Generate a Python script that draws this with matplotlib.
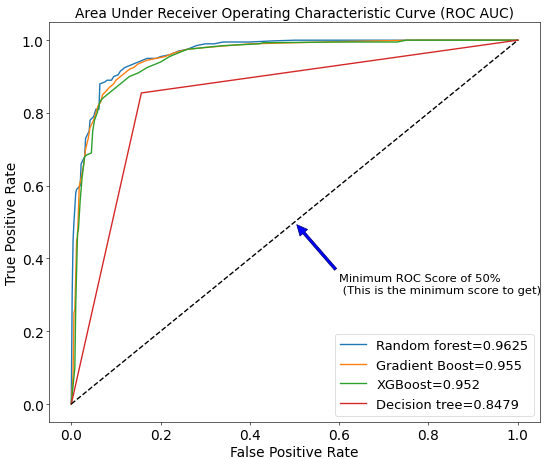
import matplotlib
matplotlib.use('Agg')
import matplotlib.pyplot as plt

# ROC points
rf_fpr = [0.0, 0.002, 0.004, 0.006, 0.010, 0.012, 0.020, 0.022, 0.030, 0.032, 0.040, 0.042, 0.050, 0.055, 0.062, 0.064,
          0.075, 0.080, 0.090, 0.095, 0.105, 0.110, 0.120, 0.130, 0.140, 0.150, 0.160, 0.170, 0.190, 0.200, 0.220,
          0.240, 0.260, 0.280, 0.300, 0.320, 0.340, 0.400, 0.450, 0.500, 1.0]
rf_tpr = [0.0, 0.30, 0.45, 0.50, 0.58, 0.59, 0.60, 0.66, 0.68, 0.73, 0.75, 0.78, 0.79, 0.81, 0.81, 0.88,
          0.885, 0.89, 0.89, 0.90, 0.905, 0.915, 0.925, 0.93, 0.935, 0.94, 0.945, 0.95, 0.95, 0.955, 0.96,
          0.97, 0.975, 0.985, 0.99, 0.99, 0.995, 0.995, 0.998, 1.0, 1.0]

gb_fpr = [0.0, 0.004, 0.006, 0.008, 0.012, 0.014, 0.018, 0.022, 0.028, 0.032, 0.038, 0.042, 0.050, 0.055, 0.060,
          0.066, 0.070, 0.078, 0.085, 0.095, 0.100, 0.110, 0.120, 0.130, 0.140, 0.150, 0.170, 0.190, 0.210, 0.230,
          0.260, 0.300, 0.350, 0.400, 0.500, 0.600, 0.770, 1.0]
gb_tpr = [0.0, 0.08, 0.25, 0.26, 0.45, 0.46, 0.60, 0.62, 0.66, 0.70, 0.73, 0.76, 0.78, 0.80, 0.82,
          0.83, 0.85, 0.86, 0.87, 0.88, 0.89, 0.90, 0.91, 0.92, 0.925, 0.935, 0.945, 0.95, 0.955, 0.965,
          0.975, 0.98, 0.985, 0.99, 0.993, 0.996, 1.0, 1.0]

xgb_fpr = [0.0, 0.008, 0.010, 0.014, 0.016, 0.020, 0.024, 0.030, 0.035, 0.045, 0.048, 0.052, 0.058, 0.064, 0.070,
           0.080, 0.090, 0.100, 0.110, 0.120, 0.130, 0.150, 0.170, 0.180, 0.200, 0.220, 0.240, 0.260, 0.300,
           0.340, 0.420, 0.430, 0.600, 0.730, 0.750, 1.0]
xgb_tpr = [0.0, 0.10, 0.27, 0.47, 0.48, 0.56, 0.62, 0.68, 0.685, 0.69, 0.75, 0.78, 0.80, 0.83, 0.84,
           0.85, 0.86, 0.87, 0.88, 0.89, 0.90, 0.91, 0.925, 0.93, 0.94, 0.955, 0.965, 0.975, 0.98,
           0.985, 0.99, 0.993, 0.995, 0.995, 1.0, 1.0]

dt_fpr = [0.0, 0.157, 1.0]
dt_tpr = [0.0, 0.855, 1.0]

labels = ['Random forest=0.9625', 'Gradient Boost=0.955', 'XGBoost=0.952', 'Decision tree=0.8479']

# big figure at low dpi, like a downscaled notebook plot
fig, ax = plt.subplots(figsize=(10, 8.3636), dpi=55)
ax.plot(rf_fpr, rf_tpr, color='tab:blue', lw=1.8, label=labels[0])
ax.plot(gb_fpr, gb_tpr, color='tab:orange', lw=1.8, label=labels[1])
ax.plot(xgb_fpr, xgb_tpr, color='tab:green', lw=1.8, label=labels[2])
ax.plot(dt_fpr, dt_tpr, color='tab:red', lw=1.8, label=labels[3])
ax.plot([0, 1], [0, 1], 'k--', lw=1.8)

ax.annotate('Minimum ROC Score of 50%\n (This is the minimum score to get)',
            xy=(0.5, 0.5), xytext=(0.6, 0.305), fontsize=15,
            arrowprops=dict(facecolor='blue', edgecolor='#000080', width=3.5, headwidth=13, headlength=14, shrink=0.05))

ax.set_title('Area Under Receiver Operating Characteristic Curve (ROC AUC)', fontsize=18)
ax.set_xlabel('False Positive Rate', fontsize=18)
ax.set_ylabel('True Positive Rate', fontsize=18)
ax.tick_params(labelsize=18)
ax.legend(loc='lower right', fontsize=17)

plt.subplots_adjust(left=0.089, right=0.982, top=0.95, bottom=0.08)
plt.savefig('out.png')
